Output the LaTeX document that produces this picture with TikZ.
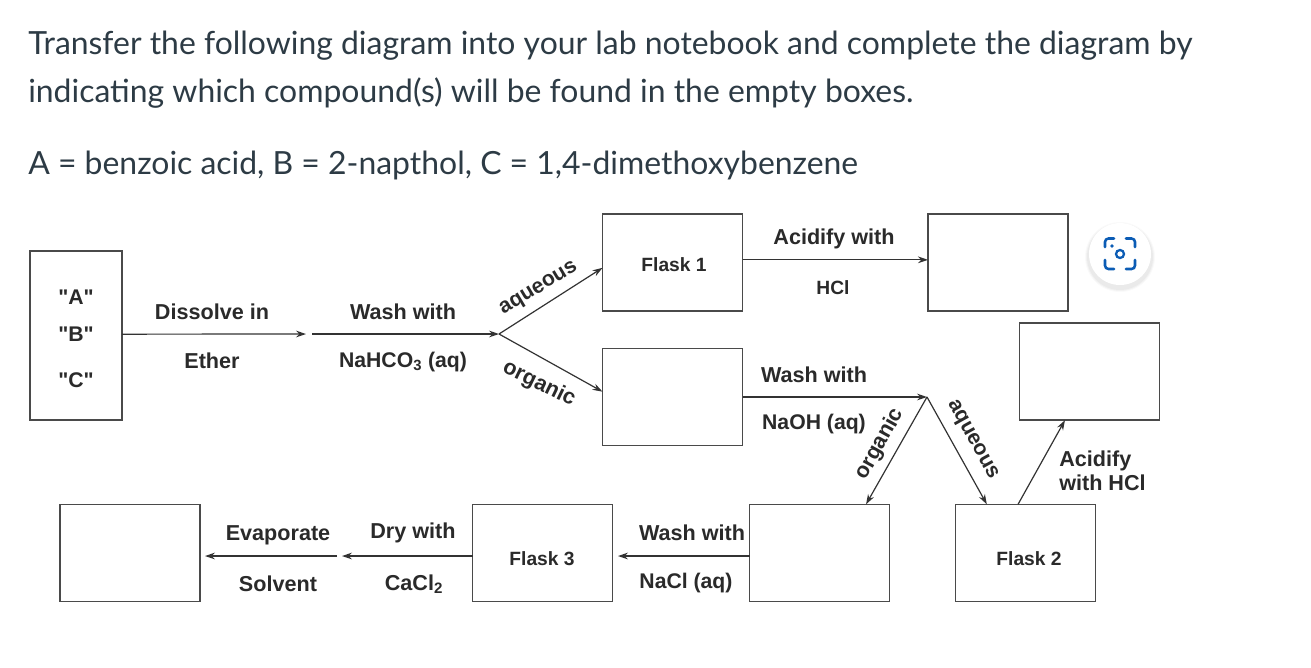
\documentclass[tikz,border=0pt]{standalone}
\usepackage{fontspec}
\setmainfont{Liberation Sans}
\newfontfamily\headfont{Lato}
\newfontfamily\difffont{Liberation Sans Bold}
\usetikzlibrary{arrows.meta}
\definecolor{headtext}{HTML}{2D3B45}
\definecolor{iconblue}{HTML}{0B5CB5}
\definecolor{boxline}{HTML}{4A4A4A}
\definecolor{difftext}{HTML}{2A2A2A}
\tikzset{
  box/.style={draw=boxline,line width=1.1pt,fill=white,inner sep=0pt,outer sep=0pt,minimum width=105pt,minimum height=73pt},
  lab/.style={text=difftext,font=\difffont\fontsize{16.2}{18}\selectfont,inner sep=0pt,yshift=-0.75pt},
  labn/.style={text=difftext,font=\difffont\fontsize{15.9}{20}\selectfont,inner sep=0pt,yshift=-0.75pt},
  labs/.style={text=difftext,font=\difffont\fontsize{14.4}{18}\selectfont,inner sep=0pt,yshift=-0.75pt},
  head/.style={text=headtext,font=\headfont\fontsize{23.94}{29}\selectfont,anchor=base west,inner sep=0pt},
  conn/.style={draw=black!80,line width=0.9pt,-{Stealth[length=7.5pt,width=5pt]}},
  iconline/.style={draw=iconblue,line width=1.9pt,line cap=round,rounded corners=2.6pt}
}
\begin{document}
\begin{tikzpicture}[x=0.75pt,y=-0.75pt]
\useasboundingbox (0,0) rectangle (1311,668);
\fill[white] (0,0) rectangle (1311,668);
% heading
\node[head] (h1) at (28,54) {Transfer the following diagram into your lab notebook and complete the diagram by};
\node[head] (h2) at (28,102) {indicating which compound(s) will be found in the empty boxes.};
\node[head] (h3) at (28,174) {A = benzoic acid, B = 2-napthol, C = 1,4-dimethoxybenzene};
% boxes
\node[box,minimum width=69pt,minimum height=126.75pt] (abc) at (76,335.5) {};
\node[box] (flaskone) at (672.5,262.5) {};
\node[box] (topr) at (998,262.5) {};
\node[box] (midr) at (1089.5,371.5) {};
\node[box] (mid) at (672.5,397) {};
\node[box] (endb) at (130,553) {};
\node[box] (flaskthree) at (542.5,553) {};
\node[box] (botm) at (819.5,553) {};
\node[box] (flasktwo) at (1025.5,553) {};
% junctions
\coordinate (j1) at (306,334);
\coordinate (j1b) at (312,334);
\coordinate (j2) at (499,334);
\coordinate (j3) at (927,397);
\coordinate (j4) at (618,556);
\coordinate (j5) at (342,556);
\coordinate (j5b) at (337,556);
\coordinate (j6) at (205,556);
% connectors
\draw[conn] ([yshift=1pt]abc.east) -- (j1);
\draw[conn] (j1b) -- (j2);
\draw[conn] (j2) -- ([yshift=-4pt]flaskone.west);
\draw[conn] (j2) -- ([yshift=4pt]mid.west);
\draw[conn] ([yshift=2pt]flaskone.east) -- ([yshift=2pt]topr.west);
\draw[conn] (mid.east) -- (j3);
\draw[conn] (j3) -- ([xshift=-17.6pt]botm.north east);
\draw[conn] (j3) -- ([xshift=-29pt]flasktwo.north);
\draw[conn] ([xshift=-5.6pt]flasktwo.north) -- ([xshift=-18.4pt]midr.south);
\draw[conn] ([yshift=-2.25pt]botm.west) -- (j4);
\draw[conn] ([yshift=-2.25pt]flaskthree.west) -- (j5);
\draw[conn] (j5b) -- (j6);
% labels
\node[labn] (a) at (76,296) {"A"};
\node[labn] (b) at (76,333) {"B"};
\node[labn] (c) at (76,379) {"C"};
\node[lab] (l1) at (212,311) {Dissolve in};
\node[lab] (l2) at (212,360) {Ether};
\node[lab] (l3) at (403,311) {Wash with};
\node[labn] (l4) at (403,361) {NaHCO\textsubscript{3} (aq)};
\node[labn,rotate=31] (l5) at (539,288) {aqueous};
\node[lab,rotate=-26] (l6) at (539,383) {organic};
\node[labs] (f1) at (674,264) {Flask 1};
\node[lab] (l7) at (834,238) {Acidify with};
\node[labs] (l8) at (833,287) {HCl};
\node[lab] (l9) at (814,374) {Wash with};
\node[labn] (l10) at (814,423) {NaOH (aq)};
\node[lab,rotate=61] (l11) at (880,443) {organic};
\node[labn,rotate=-61] (l12) at (972,439) {aqueous};
\node[lab,align=left,anchor=west] (l13) at (1059,470) {Acidify\\with HCl};
\node[labs] (f2) at (1029,558) {Flask 2};
\node[lab] (l14) at (692,532) {Wash with};
\node[labn] (l15) at (686,582) {NaCl (aq)};
\node[labs] (f3) at (542,558) {Flask 3};
\node[lab] (l16) at (413,532) {Dry with};
\node[lab] (l17) at (414,583) {CaCl\textsubscript{2}};
\node[lab] (l18) at (278,534) {Evaporate};
\node[lab] (l19) at (278,583) {Solvent};
% camera badge
\foreach \r/\o in {35/0.02,34/0.03,33/0.03} \fill[black,opacity=\o] (1120,257) circle[radius=\r];
\fill[white] (1120,254) circle[radius=31];
\draw[iconline] (1105,247) -- (1105,238.5) -- (1114,238.5);
\draw[iconline] (1126,238.5) -- (1135,238.5) -- (1135,247);
\draw[iconline] (1135,260) -- (1135,269) -- (1126,269);
\draw[iconline] (1114,269) -- (1105,269) -- (1105,260);
\draw[draw=iconblue,line width=1.7pt] (1120,254) circle[radius=4];
\fill[iconblue] (1112,246) circle[radius=1.8];
\end{tikzpicture}
\end{document}
